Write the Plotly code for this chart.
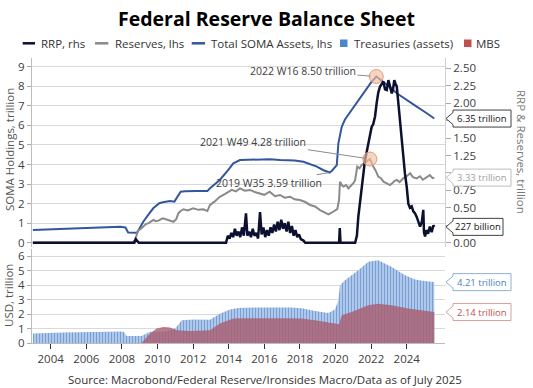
import plotly.graph_objects as go

# ---------------- data ----------------
# Total SOMA assets, trillion (lhs)
soma_x = [2003.0, 2005.0, 2007.9, 2008.2, 2008.35, 2008.85, 2009.2, 2009.5, 2009.76, 2010.1,
          2010.3, 2010.7, 2010.95, 2011.3, 2011.55, 2012.2, 2012.8, 2012.95, 2013.5, 2014.0,
          2014.26, 2014.63, 2015.5, 2016.3, 2016.9, 2017.7, 2018.2, 2018.95, 2019.3, 2019.66,
          2019.8, 2020.07, 2020.16, 2020.35, 2020.53, 2021.0, 2021.5, 2022.0, 2022.29,
          2022.69, 2023.0, 2023.44, 2024.0, 2024.56, 2025.0, 2025.55]
soma_y = [0.65, 0.72, 0.82, 0.78, 0.52, 0.51, 1.07, 1.45, 1.76, 2.02,
          2.07, 2.13, 2.10, 2.61, 2.63, 2.64, 2.64, 2.78, 3.21, 3.75,
          4.06, 4.23, 4.25, 4.27, 4.23, 4.20, 4.14, 3.89, 3.72, 3.59,
          3.68, 3.97, 5.08, 5.93, 6.30, 6.90, 7.50, 8.20, 8.50,
          8.24, 8.00, 7.64, 7.28, 6.96, 6.70, 6.35]

# Reserves, trillion (lhs)
res_x = [2003.0, 2008.6, 2008.74, 2008.9, 2009.05, 2009.2, 2009.35, 2009.5, 2009.65, 2009.77,
         2009.9, 2010.05, 2010.3, 2010.5, 2010.7, 2010.9, 2011.05, 2011.17, 2011.3, 2011.45,
         2011.7, 2012.0, 2012.3, 2012.57, 2012.8, 2012.95, 2013.2, 2013.5, 2013.8, 2014.17,
         2014.4, 2014.63, 2014.9, 2015.2, 2015.5, 2015.76, 2016.0, 2016.3, 2016.6, 2016.88,
         2017.15, 2017.45, 2017.7, 2018.0, 2018.3, 2018.57, 2018.85, 2019.13, 2019.4, 2019.6,
         2019.75, 2019.88, 2020.1, 2020.2, 2020.25, 2020.35, 2020.44, 2020.6, 2020.72, 2020.85,
         2021.0, 2021.1, 2021.22, 2021.35, 2021.47, 2021.6, 2021.75, 2021.93, 2022.03, 2022.12,
         2022.25, 2022.4, 2022.55, 2022.69, 2022.85, 2023.06, 2023.2, 2023.3, 2023.44, 2023.6,
         2023.8, 2024.0, 2024.19, 2024.35, 2024.56, 2024.75, 2024.9, 2025.03, 2025.15, 2025.3,
         2025.45, 2025.55]
res_y = [0.01, 0.02, 0.14, 0.60, 0.70, 0.82, 0.95, 1.00, 1.08, 1.16,
         1.10, 1.13, 1.25, 1.20, 1.12, 1.07, 1.20, 1.50, 1.62, 1.71,
         1.65, 1.76, 1.68, 1.71, 1.62, 1.93, 2.10, 2.35, 2.50, 2.70,
         2.62, 2.78, 2.66, 2.70, 2.58, 2.52, 2.45, 2.61, 2.38, 2.44,
         2.30, 2.35, 2.22, 2.18, 2.08, 1.93, 1.85, 1.67, 1.55, 1.45,
         1.52, 1.59, 1.72, 2.20, 3.12, 2.95, 2.87, 2.95, 2.78, 2.90,
         3.04, 3.20, 3.89, 3.80, 3.97, 4.05, 4.15, 4.28, 4.10, 3.89,
         3.70, 3.38, 3.30, 3.12, 3.05, 2.95, 3.05, 3.15, 3.21, 3.10,
         3.29, 3.40, 3.55, 3.35, 3.29, 3.40, 3.22, 3.29, 3.38, 3.46,
         3.30, 3.33]

# Reverse repo (RRP), trillion (rhs)
rrp_x = [2003.0, 2008.7, 2008.78, 2008.86, 2008.95, 2013.85, 2013.95, 2014.05, 2014.15, 2014.25,
         2014.35, 2014.45, 2014.55, 2014.65, 2014.75, 2014.85, 2014.97, 2015.05, 2015.15, 2015.25,
         2015.35, 2015.45, 2015.55, 2015.65, 2015.76, 2015.85, 2015.95, 2016.05, 2016.15, 2016.25,
         2016.35, 2016.45, 2016.55, 2016.65, 2016.75, 2016.85, 2016.95, 2017.05, 2017.15, 2017.25,
         2017.35, 2017.45, 2017.55, 2017.65, 2017.75, 2017.85, 2017.95, 2018.05, 2018.2, 2018.3,
         2020.2, 2020.24, 2020.28, 2021.1, 2021.2, 2021.28, 2021.38, 2021.47, 2021.56, 2021.66,
         2021.75, 2021.84, 2021.93, 2022.03, 2022.12, 2022.22, 2022.31, 2022.4, 2022.5, 2022.6,
         2022.69, 2022.78, 2022.88, 2022.97, 2023.06, 2023.16, 2023.23, 2023.3, 2023.37, 2023.44,
         2023.53, 2023.62, 2023.72, 2023.81, 2023.9, 2024.0, 2024.09, 2024.18, 2024.28, 2024.37,
         2024.47, 2024.56, 2024.66, 2024.75, 2024.85, 2024.93, 2024.97, 2025.03, 2025.1, 2025.2,
         2025.3, 2025.4, 2025.5, 2025.55]
rrp_y = [0.0, 0.0, 0.05, 0.02, 0.0, 0.0, 0.10, 0.06, 0.14, 0.08,
         0.20, 0.10, 0.16, 0.08, 0.22, 0.10, 0.42, 0.10, 0.16, 0.08,
         0.20, 0.10, 0.14, 0.06, 0.44, 0.12, 0.22, 0.08, 0.18, 0.10,
         0.22, 0.14, 0.26, 0.16, 0.30, 0.18, 0.33, 0.20, 0.28, 0.16,
         0.30, 0.14, 0.24, 0.10, 0.18, 0.08, 0.12, 0.05, 0.03, 0.0,
         0.0, 0.21, 0.0, 0.0, 0.10, 0.37, 0.60, 0.85, 1.00, 1.19,
         1.30, 1.42, 1.55, 1.66, 1.70, 1.81, 2.00, 2.15, 2.24, 2.28,
         2.31, 2.20, 2.19, 2.33, 2.25, 2.14, 2.20, 2.33, 2.28, 2.24,
         2.00, 1.75, 1.42, 1.20, 0.99, 0.80, 0.56, 0.50, 0.52, 0.45,
         0.42, 0.37, 0.30, 0.23, 0.30, 0.47, 0.15, 0.09, 0.18, 0.13,
         0.23, 0.15, 0.25, 0.227]

# Treasuries held (assets), trillion
tsy_x = [2003.0, 2004.7, 2007.9, 2008.1, 2008.27, 2009.1, 2009.3, 2009.58, 2010.0, 2010.5,
         2011.0, 2011.36, 2012.0, 2012.95, 2013.5, 2014.07, 2014.54, 2015.5, 2016.5, 2017.5,
         2018.1, 2018.85, 2019.6, 2019.97, 2020.16, 2020.25, 2020.53, 2021.28, 2021.84, 2022.4,
         2023.16, 2023.9, 2024.47, 2025.0, 2025.55]
tsy_y = [0.65, 0.72, 0.79, 0.78, 0.48, 0.48, 0.60, 0.77, 0.78, 0.82,
         1.00, 1.57, 1.63, 1.61, 2.03, 2.31, 2.42, 2.46, 2.46, 2.46,
         2.41, 2.22, 2.08, 2.31, 2.95, 3.99, 4.34, 5.03, 5.61, 5.72,
         5.26, 4.69, 4.39, 4.28, 4.21]

# MBS held, trillion
mbs_x = [2009.0, 2009.1, 2009.58, 2009.95, 2010.33, 2010.7, 2011.08, 2011.83, 2012.95, 2013.5,
         2014.26, 2014.9, 2016.0, 2017.0, 2018.1, 2018.85, 2019.97, 2020.2, 2020.35, 2020.9,
         2021.84, 2022.4, 2023.16, 2024.09, 2025.55]
mbs_y = [0.0, 0.0, 0.65, 1.00, 1.11, 1.08, 0.88, 0.83, 0.88, 1.34,
         1.69, 1.72, 1.72, 1.72, 1.70, 1.57, 1.35, 1.30, 1.92, 2.15,
         2.61, 2.72, 2.61, 2.38, 2.14]

year_ticks = [2004, 2006, 2008, 2010, 2012, 2014, 2016, 2018, 2020, 2022, 2024]
year_labels = [str(y) for y in year_ticks]
left_top_ticks = list(range(0, 10))
right_ticks = [0.0, 0.25, 0.5, 0.75, 1.0, 1.25, 1.5, 1.75, 2.0, 2.25, 2.5]
# labels hidden behind the value callouts in the reference are left blank
right_labels = ["0.00", "", "0.50", "0.75", "", "1.25", "1.50", "", "2.00", "2.25", "2.50"]
bottom_ticks = list(range(0, 7))

# annotated points
peak_soma = ("2022 W16 8.50 trillion", 2022.29, 8.50)
peak_res = ("2021 W49 4.28 trillion", 2021.93, 4.28)
low_soma = ("2019 W35 3.59 trillion", 2019.66, 3.59)

# ---------------- layout geometry ----------------
W, H = 533, 388
ML, MR, MT, MB = 32, 88, 58, 45
PW = W - ML - MR
PH = H - MT - MB

def px2x(px):
    return (px - ML) / PW

def py2y(py):
    return (H - MB - py) / PH

top_dom = [py2y(247), 1.0]
bot_dom = [0.0, py2y(249)]
xr = [2002.95, 2026.15]
yl_rng = [-0.22, 9.447]
k = 0.28025
yr_rng = [yl_rng[0] * k, yl_rng[1] * k]
yb_rng = [0, 6.5]

FONT = "Open Sans"
TXT = "#333333"
GRID = "#d9d9d9"

C_RRP = "#0c1030"
C_RES = "#8a8a8a"
C_SOMA = "#34569c"

fig = go.Figure()

# bottom panel areas
fig.add_trace(go.Scatter(
    x=tsy_x, y=tsy_y, xaxis="x2", yaxis="y3", mode="none", fill="tozeroy",
    fillcolor="#adc8ea",
    fillpattern=dict(shape="|", fgcolor="#4170b5", bgcolor="#b3cdee", size=3, solidity=0.4),
    showlegend=False, hoverinfo="skip"))
fig.add_trace(go.Scatter(
    x=mbs_x, y=mbs_y, xaxis="x2", yaxis="y3", mode="none", fill="tozeroy",
    fillcolor="rgba(170,92,110,0.80)", showlegend=False, hoverinfo="skip"))

# top panel lines
fig.add_trace(go.Scatter(x=soma_x, y=soma_y, xaxis="x", yaxis="y", mode="lines",
                         line=dict(color=C_SOMA, width=2), showlegend=False))
fig.add_trace(go.Scatter(x=res_x, y=res_y, xaxis="x", yaxis="y", mode="lines",
                         line=dict(color=C_RES, width=2), showlegend=False))
fig.add_trace(go.Scatter(x=rrp_x, y=rrp_y, xaxis="x", yaxis="y2", mode="lines",
                         line=dict(color=C_RRP, width=2.5), showlegend=False))

shapes = []
annos = []

# title
annos.append(dict(text="<b>Federal Reserve Balance Sheet</b>", x=px2x(266.5), y=py2y(18),
                  xref="paper", yref="paper", showarrow=False, xanchor="center", yanchor="middle",
                  font=dict(family=FONT, size=19.5, color="#000000")))

# legend (manual)
ly = py2y(43.3)
leg_lines = [(22.7, 35, C_RRP, "RRP, rhs", 39.3),
             (95, 108.3, "#8a8a8a", "Reserves, lhs", 112.7),
             (191.7, 205, C_SOMA, "Total SOMA Assets, lhs", 209.3)]
for x0, x1, col, txt, tx in leg_lines:
    shapes.append(dict(type="line", xref="paper", yref="paper", x0=px2x(x0), x1=px2x(x1),
                       y0=ly, y1=ly, line=dict(color=col, width=2.5)))
    annos.append(dict(text=txt, x=px2x(tx), y=ly, xref="paper", yref="paper", showarrow=False,
                      xanchor="left", yanchor="middle", font=dict(family=FONT, size=11.5, color=TXT)))
leg_sq = [(340, "#4a86c8", "Treasuries (assets)", 351.7), (464, "#c0504d", "MBS", 474)]
for sx, col, txt, tx in leg_sq:
    shapes.append(dict(type="rect", xref="paper", yref="paper", x0=px2x(sx), x1=px2x(sx + 7.5),
                       y0=py2y(47), y1=py2y(39.5), fillcolor=col, line=dict(width=0)))
    annos.append(dict(text=txt, x=px2x(tx), y=ly, xref="paper", yref="paper", showarrow=False,
                      xanchor="left", yanchor="middle", font=dict(family=FONT, size=11.5, color=TXT)))

# axis titles
annos.append(dict(text="SOMA Holdings, trillion", x=px2x(9), y=py2y(150), xref="paper", yref="paper",
                  showarrow=False, textangle=-90, xanchor="center", yanchor="middle",
                  font=dict(family=FONT, size=11.5, color="#555555")))
annos.append(dict(text="USD, trillion", x=px2x(8), y=py2y(296), xref="paper", yref="paper",
                  showarrow=False, textangle=-90, xanchor="center", yanchor="middle",
                  font=dict(family=FONT, size=11.5, color="#555555")))
annos.append(dict(text="RRP &amp; Reserves, trillion", x=px2x(522), y=py2y(152), xref="paper",
                  yref="paper", showarrow=False, textangle=90, xanchor="center", yanchor="middle",
                  font=dict(family=FONT, size=11.5, color="#777777")))

# source
annos.append(dict(text="Source: Macrobond/Federal Reserve/Ironsides Macro/Data as of July 2025",
                  x=px2x(265), y=py2y(379), xref="paper", yref="paper", showarrow=False,
                  xanchor="center", yanchor="middle", font=dict(family=FONT, size=11.5, color=TXT)))

# point annotations with leader lines and circles
def leader(lbl, px_text, py_text, px_pt, py_pt, circle):
    name, xv, yv = lbl
    annos.append(dict(text=name, x=xv, y=yv, xref="x", yref="y", showarrow=True, arrowhead=0,
                      arrowwidth=1, arrowcolor="#8c8c8c", ax=px_text - px_pt, ay=py_text - py_pt,
                      standoff=6 if circle else 1,
                      font=dict(family=FONT, size=10.5, color="#404040")))
    if circle:
        shapes.append(dict(type="circle", xref="x", yref="y", xsizemode="pixel", ysizemode="pixel",
                           xanchor=xv, yanchor=yv, x0=-7, x1=7, y0=-7, y1=7,
                           fillcolor="rgba(244,190,160,0.65)",
                           line=dict(color="rgba(222,150,110,0.9)", width=1)))

leader(peak_soma, 303, 71, 376.3, 76.5, True)
leader(peak_res, 253.5, 141.5, 369.9, 159, True)
leader(low_soma, 271, 183.3, 331.9, 172.5, False)

# value callouts on the right
def yp_from(v, rng, dom):
    return dom[0] + (v - rng[0]) / (rng[1] - rng[0]) * (dom[1] - dom[0])

def callout(yc, text, border, fcol, x1px=511):
    x0, x1, tip = px2x(453), px2x(x1px), px2x(446)
    h = 8.5 / PH
    n = 6 / PH
    path = (f"M {x0},{yc + h} L {x1},{yc + h} L {x1},{yc - h} L {x0},{yc - h} "
            f"L {x0},{yc - n} L {tip},{yc} L {x0},{yc + n} Z")
    shapes.append(dict(type="path", xref="paper", yref="paper", path=path,
                       fillcolor="white", line=dict(color=border, width=1), layer="above"))
    annos.append(dict(text=text, x=(x0 + x1) / 2, y=yc, xref="paper", yref="paper", showarrow=False,
                      xanchor="center", yanchor="middle", font=dict(family=FONT, size=9.5, color=fcol)))

callout(yp_from(soma_y[-1], yl_rng, top_dom), f"{soma_y[-1]:.2f} trillion", "#404040", "#111111")
callout(yp_from(res_y[-1], yl_rng, top_dom), f"{res_y[-1]:.2f} trillion", "#bdbdbd", "#a0a0a0")
callout(yp_from(rrp_y[-1], yr_rng, top_dom), f"{rrp_y[-1] * 1000:.0f} billion", "#404040", "#111111", 503)
callout(yp_from(tsy_y[-1], yb_rng, bot_dom), f"{tsy_y[-1]:.2f} trillion", "#8fb0dc", "#4a7fc0")
callout(yp_from(mbs_y[-1], yb_rng, bot_dom), f"{mbs_y[-1]:.2f} trillion", "#d9a0a0", "#c05050")

tickfont = dict(family=FONT, size=11.5, color="#404040")

fig.update_layout(
    width=W, height=H, margin=dict(l=ML, r=MR, t=MT, b=MB, pad=0),
    paper_bgcolor="white", plot_bgcolor="white", showlegend=False,
    shapes=shapes, annotations=annos,
    xaxis=dict(domain=[0, 1], anchor="y", range=xr, showticklabels=False, showgrid=False,
               zeroline=False, showline=False, ticks=""),
    xaxis2=dict(domain=[0, 1], anchor="y3", range=xr, tickvals=year_ticks, ticktext=year_labels,
                ticks="outside", ticklen=5, tickcolor="#333333", showgrid=False, zeroline=False,
                showline=True, linecolor="#bdbdbd", tickfont=tickfont),
    yaxis=dict(domain=top_dom, anchor="x", range=yl_rng, tickvals=left_top_ticks,
               ticks="outside", ticklen=4, tickcolor="#aaaaaa", showgrid=True, gridcolor=GRID,
               zeroline=False, showline=True, linecolor="#bdbdbd", tickfont=tickfont),
    yaxis2=dict(overlaying="y", side="right", anchor="x", range=yr_rng, tickvals=right_ticks,
                ticktext=right_labels, ticks="outside", ticklen=5, tickcolor="#aaaaaa",
                showgrid=False, zeroline=False, showline=True, linecolor="#d0d0d0",
                tickfont=tickfont),
    yaxis3=dict(domain=bot_dom, anchor="x2", range=yb_rng, tickvals=bottom_ticks,
                ticks="outside", ticklen=4, tickcolor="#aaaaaa", showgrid=True, gridcolor=GRID,
                zeroline=False, showline=True, linecolor="#bdbdbd", tickfont=tickfont),
)

fig.write_html("out.html", config={"displayModeBar": False},
               post_script="document.body.style.margin='0px';")
